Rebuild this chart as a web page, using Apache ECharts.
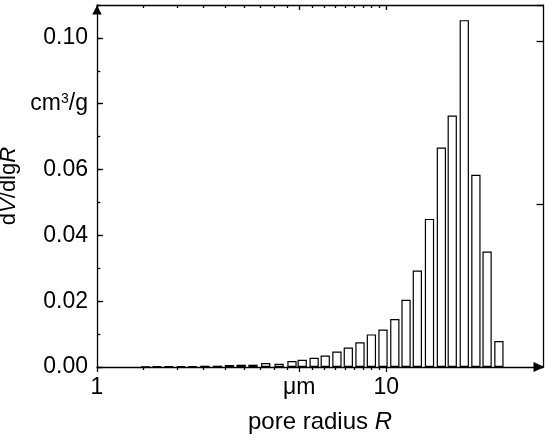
<!DOCTYPE html>
<html>
<head>
<meta charset="utf-8">
<script src="https://cdn.jsdelivr.net/npm/echarts@6/dist/echarts.min.js"></script>
<style>
html,body{margin:0;padding:0;background:#fff;}
#chart{width:550px;height:440px;}
</style>
</head>
<body>
<div id="chart"></div>
<script>
// pore radius R (µm) at bar centres
var radii = [1.47, 1.61, 1.77, 1.95, 2.14, 2.36, 2.61, 2.87, 3.15, 3.46, 3.83, 4.26, 4.72, 5.12, 5.63, 6.15, 6.75, 7.39, 8.11, 8.88, 9.74, 10.7, 11.7, 12.8, 14.1, 15.5, 16.9, 18.6, 20.4, 22.3, 24.5];
// dV/dlgR (cm3/g)
var dvdlgr = [0.0001, 0.0002, 0.0002, 0.0003, 0.0003, 0.0004, 0.0004, 0.0006, 0.0007, 0.0007, 0.0012, 0.0010, 0.0018, 0.0022, 0.0028, 0.0035, 0.0047, 0.0059, 0.0075, 0.0099, 0.0114, 0.0146, 0.0204, 0.0293, 0.0450, 0.0667, 0.0764, 0.1054, 0.0584, 0.0351, 0.0079];
// x tick values
var xMajorTicks = [1, 5, 10];
var xMinorTicks = [1.444, 1.889, 2.333, 2.778, 3.222, 3.667, 4.111, 4.556, 5.556, 6.111, 6.667, 7.222, 7.778, 8.333, 8.889, 9.444];
var xLabels = [1, 5, 10];

var X_MIN = 1, X_MAX = 34.8;
var Y_MIN = 0, Y_MAX = 0.11;
var FONT = 'Liberation Sans, Arial, sans-serif';

var data = radii.map(function (r, i) { return [r, dvdlgr[i]]; });

var chart = echarts.init(document.getElementById('chart'), null, {renderer: 'canvas'});

function helperX(pos, ticks, len, inside, showLine) {
  return {
    type: 'log', logBase: 10, min: X_MIN, max: X_MAX, position: pos,
    axisLine: {show: showLine, onZero: false, lineStyle: {color: '#000', width: 1.3}},
    axisTick: {show: true, inside: inside, length: len, customValues: ticks, lineStyle: {color: '#000', width: 1.3}},
    axisLabel: {show: false},
    splitLine: {show: false},
    minorTick: {show: false}
  };
}

var option = {
  animation: false,
  backgroundColor: '#fff',
  grid: {left: 97, right: 7, top: 5, bottom: 73, containLabel: false, outerBoundsMode: 'none'},
  xAxis: [
    {
      type: 'log', logBase: 10, min: X_MIN, max: X_MAX, position: 'bottom',
      name: 'pore radius {i|R}', nameLocation: 'middle', nameGap: 43,
      nameTextStyle: {fontFamily: FONT, fontSize: 24, color: '#000',
        rich: {i: {fontFamily: FONT, fontSize: 24, fontStyle: 'italic', color: '#000'}}},
      axisLine: {show: true, onZero: false, symbol: ['none', 'triangle'], symbolSize: [10, 11], symbolOffset: [0, -4],
        lineStyle: {color: '#000', width: 1.3}},
      axisTick: {show: true, inside: false, length: 5, customValues: xMajorTicks, lineStyle: {color: '#000', width: 1.3}},
      axisLabel: {show: true, customValues: xLabels, margin: 9, fontFamily: FONT, fontSize: 23, color: '#000',
        formatter: function (v) { return Math.abs(v - 5) < 0.01 ? 'μm' : String(Math.round(v)); }},
      splitLine: {show: false},
      minorTick: {show: false}
    },
    helperX('bottom', xMinorTicks, 3, false, false),
    helperX('top', xMajorTicks, 5, true, true),
    helperX('top', xMinorTicks, 3, true, false)
  ],
  yAxis: [
    {
      type: 'value', min: Y_MIN, max: Y_MAX, interval: 0.02, position: 'left',
      name: 'd{i|V}/dlg{i|R}', nameLocation: 'middle', nameGap: 67, nameRotate: 90,
      nameTextStyle: {fontFamily: FONT, fontSize: 22, color: '#000',
        rich: {i: {fontFamily: FONT, fontSize: 22, fontStyle: 'italic', color: '#000'}}},
      axisLine: {show: true, symbol: ['none', 'triangle'], symbolSize: [9.5, 9], symbolOffset: [0, -5],
        lineStyle: {color: '#000', width: 1.3}},
      axisTick: {show: true, inside: true, length: 6, lineStyle: {color: '#000', width: 1.3}},
      axisLabel: {show: true, margin: 9, showMaxLabel: false, fontFamily: FONT, fontSize: 23, color: '#000',
        formatter: function (v) {
          if (Math.abs(v - 0.08) < 1e-6) return '{a|cm}{s|3}{a|/g}';
          return v.toFixed(2);
        },
        rich: {
          a: {fontFamily: FONT, fontSize: 23, color: '#000'},
          s: {fontFamily: FONT, fontSize: 14, color: '#000', verticalAlign: 'top', padding: [0, 0, 6, 0]}
        }},
      splitLine: {show: false}
    },
    {
      type: 'value', min: Y_MIN, max: Y_MAX, interval: 0.01, position: 'left',
      axisLine: {show: false},
      axisTick: {show: true, inside: true, length: 3.3, lineStyle: {color: '#000', width: 1.3}},
      axisLabel: {show: false},
      splitLine: {show: false}
    },
    {
      type: 'value', min: 0, max: 2.22, interval: 1, position: 'right',
      axisLine: {show: true, lineStyle: {color: '#000', width: 1.3}},
      axisTick: {show: true, inside: true, length: 6.5, lineStyle: {color: '#000', width: 1.3}},
      axisLabel: {show: false},
      splitLine: {show: false}
    }
  ],
  series: [{
    type: 'bar',
    xAxisIndex: 0, yAxisIndex: 0,
    data: data,
    barWidth: 9.3,
    itemStyle: {color: '#fff', borderColor: '#000', borderWidth: 1.2},
    emphasis: {disabled: true}
  }]
};
chart.setOption(option);
</script>
</body>
</html>
